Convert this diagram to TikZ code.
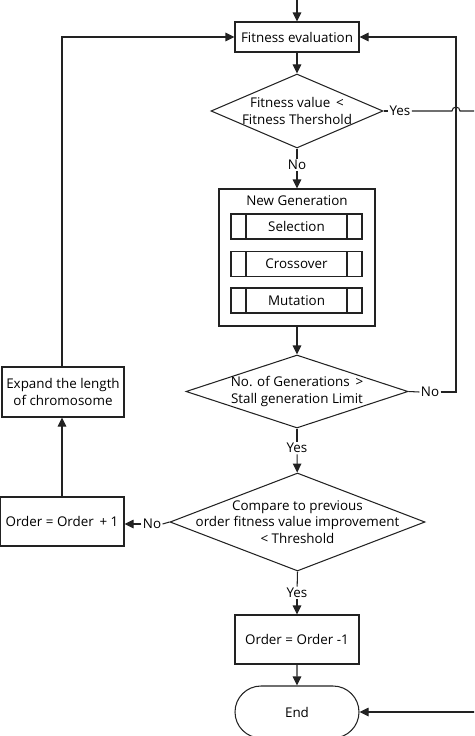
\documentclass[tikz,border=0pt]{standalone}
\usepackage{fontspec}
\setmainfont{Open Sans}
\usetikzlibrary{shapes.geometric,shapes.misc,arrows.meta,calc}
\definecolor{ln}{HTML}{222222}
\begin{document}
\begin{tikzpicture}[x=1pt,y=-1pt,
  font=\fontsize{13.4}{16.8}\selectfont,
  line width=1.05pt, color=ln,
  arr/.style={-{Triangle[length=9pt,width=8.5pt]}},
  box/.style={draw, rectangle, inner sep=0pt, align=center, text=black},
  dia/.style={draw, diamond, inner sep=0pt},
  dtext/.style={align=center, inner sep=0pt, text=black},
  lab/.style={inner sep=1pt, text=black},
  predef/.style={draw, rectangle, inner sep=0pt, minimum width=131pt, minimum height=25pt, text=black,
    path picture={\draw[line width=1.05pt,ln] ([xshift=15pt]path picture bounding box.north west) -- ([xshift=15pt]path picture bounding box.south west);
                  \draw[line width=1.05pt,ln] ([xshift=-15pt]path picture bounding box.north east) -- ([xshift=-15pt]path picture bounding box.south east);}}
]
\useasboundingbox (0,0) rectangle (474,736);
\clip (0,0) rectangle (474,736);

% nodes
\node[box, minimum width=124pt, minimum height=30pt] (fe) at (297,37) {Fitness evaluation};
\node[dia, minimum width=172pt, minimum height=74pt] (d1) at (297,111) {};
\node[dtext] (d1t) at (297,111) {Fitness value \,<\\Fitness Thershold};
\node[lab] (yes1) at (400,111) {Yes};
\node[lab] (no1) at (297,165) {No};

\node[box, minimum width=156pt, minimum height=137pt] (ng) at (297,257.5) {};
\node[text=black, inner sep=0pt] (ngt) at (297,201) {New Generation};
\node[predef] (sel) at (296.5,226.5) {Selection};
\node[predef] (cro) at (296.5,264) {Crossover};
\node[predef] (mut) at (296.5,300.5) {Mutation};

\node[dia, minimum width=222pt, minimum height=73pt] (d2) at (297,391.5) {};
\node[dtext] (d2t) at (297,391.5) {No. of Generations \,>\\Stall generation Limit};
\node[lab] (no2) at (430,392) {No};
\node[lab] (yes2) at (297,448) {Yes};

\node[dia, minimum width=255pt, minimum height=98pt] (d3) at (297.5,522) {};
\node[dtext] (d3t) at (297.5,522) {Compare to previous\\order fitness value improvement\\< Threshold};
\node[lab] (no3) at (152,524) {No};
\node[lab] (yes3) at (297,593) {Yes};

\node[box, minimum width=124pt, minimum height=49pt] (o1) at (62,521.5) {Order = Order \,+ 1};
\node[box, minimum width=122pt, minimum height=50pt] (ex) at (63,392) {Expand the length\\of chromosome};
\node[box, minimum width=124pt, minimum height=49pt] (om) at (297,639.5) {Order = Order -1};
\node[draw, rounded rectangle, inner sep=0pt, minimum width=124pt, minimum height=52pt, text=black] (end) at (297,712) {End};

% helper coordinates
\coordinate (top) at (297,-5);
\coordinate (hopL) at (452,111);
\coordinate (yesend) at (480,111);
\coordinate (rt) at (456,392);
\coordinate (rtop) at (456,37);
\coordinate (endin) at (480,712);

% connectors
\draw[arr] (top) -- (fe);
\draw[arr] (fe) -- (d1);
\draw (d1.south) -- (no1);
\draw[arr] (no1) -- (ng);
\draw (d1.east) -- (yes1.west);
\draw (yes1.east) -- (hopL) arc[start angle=180, end angle=0, radius=4pt] -- (yesend);
\draw[arr] (ng) -- (d2);
\draw (d2.east) -- (no2.west);
\draw[arr] (no2.east) -- (rt) -- (rtop) -- (fe.east);
\draw (d2.south) -- (yes2);
\draw[arr] (yes2) -- (d3);
\draw (d3.west) -- (no3.east);
\draw[arr] (no3.west) -- (o1.east |- no3.west);
\draw[arr] (o1.north) -- (o1.north |- ex.south);
\draw[arr] (o1.north |- ex.north) |- (fe.west);
\draw (d3.south) -- (yes3);
\draw[arr] (yes3) -- (om);
\draw[arr] (om) -- (end);
\draw[arr] (endin) -- (end.east);
\end{tikzpicture}
\end{document}
